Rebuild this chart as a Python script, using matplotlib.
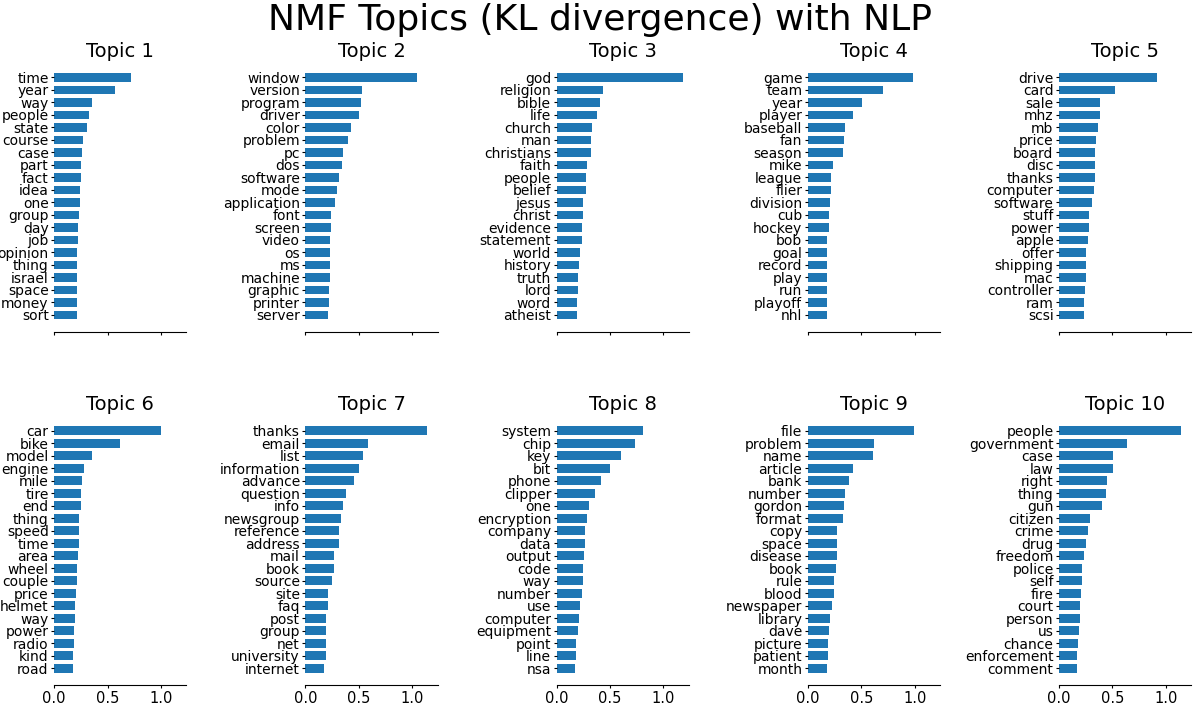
import matplotlib
matplotlib.use("Agg")
import matplotlib.pyplot as plt

topic_words = [
    ["time", "year", "way", "people", "state", "course", "case", "part", "fact", "idea",
     "one", "group", "day", "job", "opinion", "thing", "israel", "space", "money", "sort"],
    ["window", "version", "program", "driver", "color", "problem", "pc", "dos", "software", "mode",
     "application", "font", "screen", "video", "os", "ms", "machine", "graphic", "printer", "server"],
    ["god", "religion", "bible", "life", "church", "man", "christians", "faith", "people", "belief",
     "jesus", "christ", "evidence", "statement", "world", "history", "truth", "lord", "word", "atheist"],
    ["game", "team", "year", "player", "baseball", "fan", "season", "mike", "league", "flier",
     "division", "cub", "hockey", "bob", "goal", "record", "play", "run", "playoff", "nhl"],
    ["drive", "card", "sale", "mhz", "mb", "price", "board", "disc", "thanks", "computer",
     "software", "stuff", "power", "apple", "offer", "shipping", "mac", "controller", "ram", "scsi"],
    ["car", "bike", "model", "engine", "mile", "tire", "end", "thing", "speed", "time",
     "area", "wheel", "couple", "price", "helmet", "way", "power", "radio", "kind", "road"],
    ["thanks", "email", "list", "information", "advance", "question", "info", "newsgroup", "reference", "address",
     "mail", "book", "source", "site", "faq", "post", "group", "net", "university", "internet"],
    ["system", "chip", "key", "bit", "phone", "clipper", "one", "encryption", "company", "data",
     "output", "code", "way", "number", "use", "computer", "equipment", "point", "line", "nsa"],
    ["file", "problem", "name", "article", "bank", "number", "gordon", "format", "copy", "space",
     "disease", "book", "rule", "blood", "newspaper", "library", "dave", "picture", "patient", "month"],
    ["people", "government", "case", "law", "right", "thing", "gun", "citizen", "crime", "drug",
     "freedom", "police", "self", "fire", "court", "person", "us", "chance", "enforcement", "comment"],
]

topic_weights = [
    [0.717, 0.569, 0.355, 0.327, 0.308, 0.274, 0.261, 0.255, 0.255, 0.239,
     0.239, 0.230, 0.223, 0.223, 0.217, 0.217, 0.217, 0.210, 0.210, 0.210],
    [1.047, 0.528, 0.516, 0.503, 0.425, 0.400, 0.355, 0.343, 0.311, 0.292,
     0.280, 0.239, 0.239, 0.233, 0.226, 0.226, 0.226, 0.220, 0.220, 0.214],
    [1.180, 0.437, 0.406, 0.374, 0.333, 0.318, 0.318, 0.283, 0.277, 0.277,
     0.245, 0.245, 0.239, 0.233, 0.214, 0.208, 0.201, 0.201, 0.195, 0.189],
    [0.981, 0.708, 0.509, 0.418, 0.349, 0.336, 0.327, 0.233, 0.220, 0.220,
     0.208, 0.201, 0.201, 0.182, 0.182, 0.182, 0.176, 0.176, 0.176, 0.176],
    [0.918, 0.528, 0.387, 0.380, 0.368, 0.349, 0.336, 0.336, 0.336, 0.324,
     0.305, 0.280, 0.280, 0.274, 0.255, 0.248, 0.248, 0.242, 0.236, 0.230],
    [1.000, 0.619, 0.352, 0.280, 0.261, 0.255, 0.248, 0.236, 0.230, 0.230,
     0.223, 0.217, 0.210, 0.204, 0.198, 0.192, 0.186, 0.186, 0.179, 0.179],
    [1.140, 0.585, 0.541, 0.497, 0.459, 0.380, 0.349, 0.330, 0.318, 0.311,
     0.267, 0.267, 0.245, 0.214, 0.208, 0.195, 0.195, 0.195, 0.189, 0.176],
    [0.808, 0.733, 0.607, 0.497, 0.412, 0.362, 0.299, 0.286, 0.267, 0.261,
     0.255, 0.248, 0.248, 0.236, 0.217, 0.211, 0.198, 0.179, 0.179, 0.173],
    [0.997, 0.619, 0.613, 0.421, 0.381, 0.349, 0.336, 0.330, 0.274, 0.274,
     0.274, 0.261, 0.242, 0.242, 0.226, 0.208, 0.201, 0.189, 0.189, 0.176],
    [1.138, 0.632, 0.503, 0.503, 0.453, 0.440, 0.403, 0.292, 0.274, 0.255,
     0.230, 0.217, 0.217, 0.201, 0.195, 0.195, 0.189, 0.176, 0.170, 0.164],
]

title = "NMF Topics (KL divergence) with NLP"

fig, axes = plt.subplots(2, 5, figsize=(12, 7.09), dpi=100, sharex=True)
axes = axes.flatten()
for i, ax in enumerate(axes):
    ax.barh(topic_words[i], topic_weights[i], height=0.7)
    ax.set_title(f"Topic {i + 1}", fontdict={"fontsize": 14}, pad=3)
    ax.invert_yaxis()
    ax.tick_params(axis="both", which="major", labelsize=10, length=2.5, pad=1.5)
    ax.tick_params(axis="x", labelsize=10.5)
    for side in "top right left".split():
        ax.spines[side].set_visible(False)

fig.suptitle(title, fontsize=26, y=0.972, va="center")
plt.subplots_adjust(left=0.0452, right=0.9928, top=0.9144, bottom=0.0339, wspace=0.9, hspace=0.304)
plt.savefig("out.png")
